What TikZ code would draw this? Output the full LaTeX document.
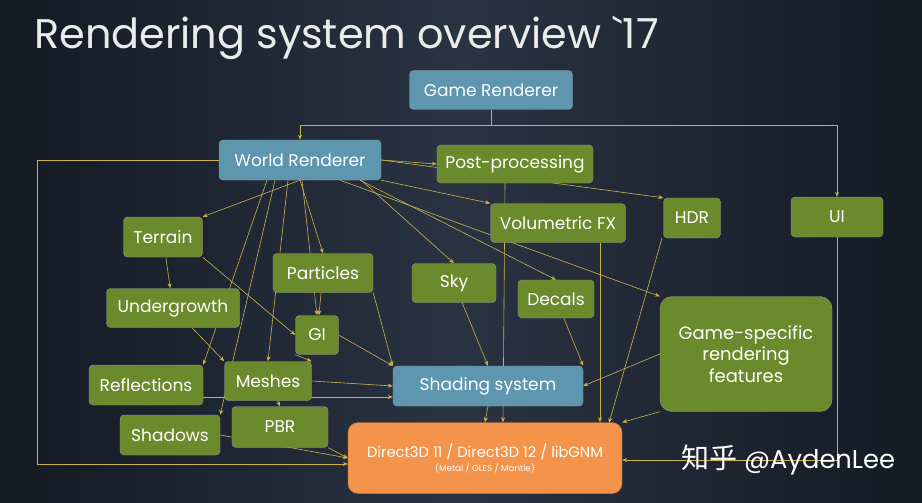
\documentclass[tikz,border=0pt]{standalone}
\usepackage{fontspec}
\setmainfont{Poppins}[Scale=0.92]
\newfontfamily\cjk{Noto Sans CJK SC}
\usetikzlibrary{arrows.meta}
\pgfdeclarelayer{edges}
\pgfdeclarelayer{bg}
\pgfsetlayers{bg,edges,main}
\definecolor{bgA}{HTML}{2A3342}
\definecolor{bgB}{HTML}{141A24}
\definecolor{gr}{HTML}{6A8A2B}
\definecolor{bl}{HTML}{5E95AF}
\definecolor{og}{HTML}{F4934A}
\definecolor{ln}{HTML}{CDB24C}
\begin{document}
\begin{tikzpicture}[x=1pt,y=-1pt,
  box/.style={rounded corners=4pt,text=white,font=\fontsize{18.5}{20}\selectfont,inner sep=0pt,draw=black!40,line width=0.4pt},
  g/.style={box,fill=gr},
  b/.style={box,fill=bl},
  e/.style={ln,line width=0.6pt,-{Stealth[length=5pt,width=4pt]}},
  p/.style={ln,line width=0.6pt}]
\begin{pgfonlayer}{bg}
\fill[left color=bgB,right color=bgB,middle color=bgA] (0,0) rectangle (922,503);
\end{pgfonlayer}
\useasboundingbox (0,0) rectangle (922,503);
\node[anchor=west,text=white!92!black,font=\fontsize{45}{48}\selectfont] (title) at (31,38) {Rendering system overview \textasciigrave17};
% nodes
\node[b,minimum width=163,minimum height=39] (gr) at (491,90) {Game Renderer};
\node[b,minimum width=162,minimum height=40] (wr) at (300,160) {World Renderer};
\node[g,minimum width=156,minimum height=38] (pp) at (515,164) {Post-processing};
\node[g,minimum width=135,minimum height=39] (vf) at (558,223) {Volumetric FX};
\node[g,minimum width=57,minimum height=40] (hdr) at (692,218) {HDR};
\node[g,minimum width=92,minimum height=40] (ui) at (837,217) {UI};
\node[g,minimum width=79,minimum height=40] (ter) at (163,237) {Terrain};
\node[g,minimum width=100,minimum height=39] (par) at (323,273) {Particles};
\node[g,minimum width=84,minimum height=39] (sky) at (454,283) {Sky};
\node[g,minimum width=76,minimum height=38] (dec) at (556,299) {Decals};
\node[g,minimum width=172,minimum height=115,rounded corners=12pt,align=center,font=\fontsize{19.5}{21.5}\selectfont] (gs) at (746,354) {Game-specific\\rendering\\features};
\node[g,minimum width=133,minimum height=39] (ug) at (173,308) {Undergrowth};
\node[g,minimum width=43,minimum height=39] (gi) at (317,335) {GI};
\node[g,minimum width=114,minimum height=40] (ref) at (146,385) {Reflections};
\node[g,minimum width=87,minimum height=39] (me) at (268,381) {Meshes};
\node[b,minimum width=190,minimum height=40] (sh) at (488,386) {Shading system};
\node[g,minimum width=100,minimum height=40] (sha) at (170,435) {Shadows};
\node[g,minimum width=96,minimum height=41] (pbr) at (280,427) {PBR};
\node[box,fill=og,draw=og!80!black,minimum width=274,minimum height=71,rounded corners=10pt,align=center,font=\fontsize{16}{17}\selectfont] (d3d) at (485,458) {Direct3D 11 / Direct3D 12 / libGNM\\[-3pt]{\fontsize{9.5}{10}\selectfont (Metal / GLES / Mantle)}};
\begin{pgfonlayer}{edges}
\coordinate (j) at (491,125);
\draw[p] (gr.south) -- (j);
\draw[e] (j) -| (wr.north);
\draw[e] (j) -| (ui.north);
\draw[e] (wr.west) -| (37,464) -- (d3d.west |- 0,464);
\draw[e] (wr.east) -- (pp.west);
\draw[e] (wr.south east) -- (vf.north west);
\draw[e] (wr.east) -- (hdr.north west);
\draw[e] (wr.south east) ++(-20,0) -- (sky.north);
\draw[e] (wr.south) ++(60,0) -- (dec.north);
\draw[e] (wr.south) ++(40,0) -- (gs.north west);
\draw[e] (wr.south) -- (ter.north east);
\draw[e] (wr.south) -- (par.north);
\draw[e] (wr.south) ++(-33,0) -- (ref.north east);
\draw[e] (wr.south) ++(-25,0) -- (sha.north east);
\draw[e] (wr.south) ++(-12,0) -- (me.north);
\draw[e] (wr.south) ++(2,0) -- (gi.north);
\draw[e] (ter) -- (ug);
\draw[e] (ter.south east) -- (gi.west);
\draw[e] (ug) -- (me.north west);
\draw[e] (gi.south west) -- (me.north east);
\draw[e] (par) -- (gi);
\draw[e] (par.south east) -- (sh.north west);
\draw[e] (gi.east) -- (sh.north west);
\draw[e] (me.east) -- (sh.west);
\draw[e] (ref.east |- 0,397) -- (sh.west |- 0,397);
\draw[e] (me) -- (pbr.north);
\draw[e] (pbr.south east) -- (d3d.west);
\draw[e] (sha.east) -- (d3d.west);
\draw[e] (sky) -- (sh.north);
\draw[e] (dec) -- (sh.north east);
\draw[e] (pp.south -| 505,0) -- (d3d.north -| 503,0);
\draw[e] (sh.south) -- (d3d.north);
\draw[e] (vf.south -| 600,0) -- (d3d.north -| 600,0);
\draw[e] (hdr.south) ++(-30,0) -- (609,423);
\draw[e] (gs.west) -- (sh.east);
\draw[e] (gs.south west) -- (d3d.north east);
\draw[e] (ui.south) |- (d3d.east |- 0,460);
\end{pgfonlayer}
\node[anchor=west,text=white,font=\fontsize{28}{30}\selectfont] (wm) at (678,460) {{\cjk 知乎} @AydenLee};
\end{tikzpicture}
\end{document}
